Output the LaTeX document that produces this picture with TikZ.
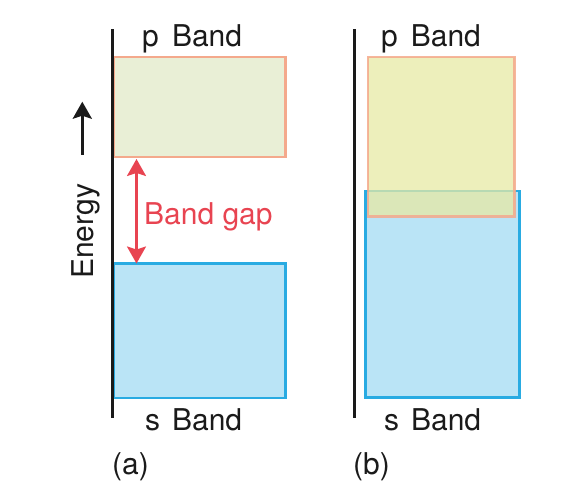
\documentclass[tikz,border=0pt]{standalone}
\usepackage{fontspec}
\setmainfont{TeX Gyre Heros}
\usetikzlibrary{arrows.meta}

\definecolor{pfillA}{HTML}{E9EFD6}
\definecolor{pfillB}{HTML}{E7E9A4}
\definecolor{pline}{HTML}{F4A98C}
\definecolor{sfill}{HTML}{BAE4F6}
\definecolor{sline}{HTML}{29ABE2}
\definecolor{gapred}{HTML}{E84451}
\definecolor{axisgray}{HTML}{1A1A1A}

\tikzset{
  lbl/.style={font=\fontsize{30}{36}\selectfont, text=axisgray, inner sep=0, anchor=base west},
  bandbox/.style={draw, line width=2.3, inner sep=0, outer sep=0, anchor=north west},
  axisline/.style={draw=axisgray, line width=3},
}

\begin{document}
\begin{tikzpicture}[x=1pt, y=-1pt, >={Stealth[length=17pt, width=19pt, inset=3pt]}]
\useasboundingbox (0,0) rectangle (570,494);
% (a) bands with a gap
\node[bandbox, fill=pfillA, draw=pline, minimum width=172, minimum height=100] (pa) at (113.5,57) {};
\node[bandbox, fill=sfill, draw=sline, minimum width=172, minimum height=134.5] (sa) at (113.5,263.5) {};
\draw[axisline] (112,29.5) -- (112,417.5);
\draw[<->, gapred, line width=2.2, shorten <=2, shorten >=0] ([xshift=23]pa.south west) -- ([xshift=23]sa.north west);
\node[lbl, text=gapred] (gap) at (144,225) {Band gap};
\node[lbl] (pta) at (142,46.7) {p\hspace{0.16em} Band};
\node[lbl] (sta) at (145,430) {s\hspace{0.12em} Band};
\node[lbl] (capa) at (112,474) {(a)};
% energy axis
\coordinate (elow) at (82.3,155);
\coordinate (ehigh) at (82.3,101.7);
\draw[->, axisgray, line width=3] (elow) -- (ehigh);
\node[lbl, rotate=90] (energy) at (93.3,279) {Energy};
% (b) overlapping bands
\node[bandbox, fill=sfill, draw=sline, minimum width=154, minimum height=206.5] (sb) at (365.5,191) {};
\node[bandbox, fill=pfillB, draw=pline, fill opacity=0.75, draw opacity=0.85, minimum width=146.5, minimum height=159.5] (pb) at (368,57) {};
\draw[axisline] (354,29.5) -- (354,417.5);
\node[lbl] (ptb) at (380.8,46.7) {p\hspace{0.16em} Band};
\node[lbl] (stb) at (384,430) {s\hspace{0.12em} Band};
\node[lbl] (capb) at (353,474) {(b)};
\end{tikzpicture}
\end{document}
